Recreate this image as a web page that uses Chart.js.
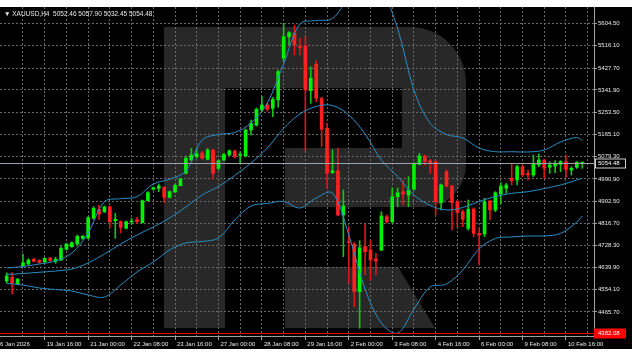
<!DOCTYPE html>
<html>
<head>
<meta charset="utf-8">
<script src="https://cdn.jsdelivr.net/npm/chart.js@4.4.1/dist/chart.umd.min.js"></script>
<style>
  html, body { margin: 0; padding: 0; background: #fff; }
  #wrap { width: 632px; height: 355px; }
</style>
</head>
<body>
<div id="wrap"><canvas id="chart" width="632" height="355"></canvas></div>
<script>
// XAUUSD H4, bar index 0..106 (16 Jan 2026 -> 11 Feb 2026)
const headerText = '\u25BC XAUUSD,H4  5052.46 5057.90 5032.45 5054.48';

const opens = [4588.0, 4602.6, 4577.3, 4648.4, 4655.0, 4673.6, 4669.6, 4662.9, 4678.7, 4665.7,
  4670.8, 4713.1, 4723.3, 4734.0, 4756.4, 4757.6, 4835.3, 4870.0, 4861.0, 4881.1,
  4825.9, 4821.9, 4795.8, 4820.7, 4829.8, 4818.0, 4904.7, 4949.7, 4953.6, 4957.5,
  4918.1, 4939.0, 4963.9, 5012.8, 5065.3, 5078.3, 5093.0, 5068.0, 5104.7, 5032.5,
  5065.3, 5085.0, 5100.8, 5084.0, 5081.1, 5183.6, 5203.3, 5262.5, 5282.2, 5269.2,
  5301.9, 5466.4, 5551.6, 5566.2, 5512.0, 5514.9, 5338.6, 5442.8, 5308.6, 5190.3,
  5015.2, 5023.1, 4848.3, 4745.0, 4734.0, 4545.8, 4723.3, 4710.3, 4674.8, 4710.3,
  4841.6, 4821.9, 4920.5, 4940.2, 4927.2, 4950.0, 5048.3, 5081.1, 5062.5, 5058.6,
  4896.9, 5019.1, 4962.7, 4900.8, 4861.4, 4795.8, 4872.0, 4776.1, 4773.4, 4903.5,
  4868.1, 4931.1, 4953.6, 4993.1, 4986.4, 5038.9, 5012.8, 5006.1, 5045.6, 5065.3,
  5036.5, 5041.6, 5048.3, 5058.6, 5025.8, 5036.5, 5052.46];
const highs = [4619.5, 4620.8, 4597.0, 4693.3, 4676.0, 4677.5, 4672.0, 4680.0, 4681.0, 4681.5,
  4723.3, 4736.6, 4742.0, 4769.4, 4768.0, 4841.6, 4881.1, 4887.8, 4884.0, 4883.8,
  4855.0, 4825.9, 4824.7, 4835.3, 4839.0, 4907.5, 4940.2, 4959.0, 4970.6, 4960.0,
  4943.0, 4970.6, 4994.0, 5081.1, 5111.0, 5110.0, 5100.0, 5111.0, 5108.6, 5065.3,
  5091.0, 5105.0, 5104.7, 5098.0, 5187.5, 5223.0, 5270.4, 5315.0, 5290.0, 5312.6,
  5420.0, 5604.5, 5571.4, 5597.8, 5545.3, 5551.6, 5433.3, 5456.9, 5314.0, 5210.0,
  5104.7, 5112.6, 4946.9, 4802.2, 4740.0, 4747.0, 4812.8, 4750.0, 4697.0, 4861.4,
  4848.0, 4954.8, 4954.8, 4986.4, 4999.4, 5055.0, 5091.7, 5085.0, 5068.0, 5062.5,
  4970.6, 5025.8, 4966.7, 4907.5, 4868.1, 4907.5, 4876.0, 4795.8, 4914.0, 4907.5,
  4940.2, 4975.8, 4973.0, 5052.3, 5045.6, 5045.6, 5025.8, 5085.0, 5088.9, 5068.0,
  5058.6, 5062.5, 5062.5, 5085.0, 5038.9, 5058.6, 5057.90];
const lows = [4580.1, 4536.7, 4575.0, 4647.0, 4652.0, 4662.9, 4658.0, 4660.0, 4665.0, 4657.8,
  4668.0, 4710.3, 4720.0, 4731.0, 4752.0, 4754.0, 4831.4, 4831.0, 4858.0, 4799.8,
  4756.4, 4777.3, 4793.0, 4811.6, 4815.5, 4817.0, 4903.5, 4946.9, 4940.2, 4896.9,
  4915.0, 4937.0, 4962.7, 5010.0, 5062.5, 5072.0, 5068.0, 5065.3, 4989.2, 5025.8,
  5062.0, 5082.0, 5073.0, 5049.5, 5077.0, 5164.0, 5199.0, 5256.0, 5258.0, 5236.1,
  5273.2, 5453.0, 5518.9, 5479.4, 5479.4, 5100.8, 5288.9, 5295.2, 5117.7, 4953.6,
  5012.8, 4845.0, 4683.9, 4578.9, 4486.6, 4401.4, 4611.6, 4592.0, 4611.6, 4707.0,
  4817.0, 4815.5, 4881.1, 4887.8, 4881.1, 4946.0, 5045.6, 5045.6, 5012.8, 4848.3,
  4868.1, 4958.7, 4789.1, 4802.2, 4802.2, 4789.1, 4762.7, 4651.1, 4762.7, 4829.0,
  4861.4, 4891.7, 4934.0, 4966.7, 4966.7, 4999.4, 4986.4, 4999.4, 5038.9, 4993.1,
  5012.8, 5015.2, 5019.1, 4997.0, 5006.1, 5032.5, 5032.45];
const closes = [4607.7, 4578.9, 4595.9, 4660.1, 4670.8, 4665.7, 4661.7, 4677.5, 4668.0, 4673.6,
  4717.0, 4734.0, 4739.1, 4764.3, 4764.3, 4837.7, 4874.8, 4852.3, 4880.0, 4821.9,
  4831.4, 4799.8, 4821.9, 4824.7, 4821.9, 4904.7, 4936.2, 4956.0, 4962.7, 4918.1,
  4940.2, 4965.5, 4990.3, 5072.0, 5085.0, 5090.0, 5072.0, 5104.7, 5012.8, 5062.5,
  5087.8, 5101.9, 5078.3, 5086.0, 5183.6, 5210.0, 5265.3, 5282.2, 5265.3, 5304.7,
  5413.6, 5551.6, 5567.4, 5518.9, 5508.0, 5341.4, 5387.5, 5308.6, 5186.4, 5012.8,
  5023.1, 4848.3, 4883.8, 4741.0, 4545.8, 4719.4, 4703.6, 4670.8, 4666.9, 4844.4,
  4821.9, 4920.5, 4936.2, 4931.1, 4946.9, 5052.3, 5081.1, 5058.6, 5052.3, 4900.8,
  4966.7, 4962.7, 4896.9, 4857.4, 4831.4, 4870.8, 4776.1, 4769.4, 4900.8, 4868.1,
  4936.2, 4962.7, 4966.7, 4983.7, 5038.9, 5006.1, 5006.1, 5052.3, 5065.3, 5032.5,
  5045.6, 5052.3, 5058.6, 5028.6, 5032.5, 5056.2, 5054.48];

// Bollinger bands at every third bar
const bandBars = [0, 3, 6, 9, 12, 15, 18, 21, 24, 27, 30, 33, 36, 39, 42, 45, 48, 51, 54, 57,
  60, 63, 66, 69, 72, 75, 78, 81, 84, 87, 90, 93, 96, 99, 102, 105, 106];
const bandUpper = [4639.3, 4645.2, 4655.0, 4666.9, 4698.4, 4777.3, 4900.8, 4912.6, 4920.5, 4970.6,
  4989.2, 5021.9, 5144.2, 5165.9, 5173.8, 5211.2, 5290.1, 5444.0, 5601.7, 5615.5,
  5623.4, 5708.0, 5775.0, 5735.0, 5583.6, 5341.4, 5210.0, 5165.9, 5152.0, 5112.6,
  5098.0, 5098.0, 5096.9, 5104.7, 5136.3, 5154.0, 5142.2];
const bandMiddle = [4613.6, 4617.6, 4622.3, 4627.4, 4635.3, 4659.0, 4694.5, 4733.9, 4769.4, 4801.0,
  4836.5, 4879.9, 4927.2, 4960.7, 5004.1, 5053.4, 5112.6, 5189.5, 5246.7, 5276.3,
  5280.3, 5242.8, 5167.8, 5065.3, 5000.2, 4927.2, 4885.8, 4868.1, 4877.9, 4901.6,
  4921.3, 4933.9, 4940.2, 4952.8, 4966.7, 4986.4, 4993.1];
const bandLower = [4578.1, 4572.2, 4560.3, 4554.4, 4548.5, 4532.8, 4524.9, 4572.2, 4623.5, 4663.0,
  4710.3, 4737.8, 4743.8, 4757.6, 4828.6, 4883.8, 4893.7, 4901.6, 4876.0, 4915.4,
  4935.1, 4769.4, 4556.4, 4422.3, 4382.8, 4477.5, 4564.3, 4576.1, 4631.4, 4714.2,
  4755.6, 4761.6, 4765.5, 4765.5, 4775.4, 4820.7, 4844.4];

const priceTicks = [5604.50, 5516.10, 5427.70, 5341.90, 5253.50, 5165.10, 5079.30, 4990.90,
  4902.50, 4816.70, 4728.30, 4639.90, 4554.10, 4465.70];
const timeLabelBars = [-2.2, 7, 15, 23, 31, 39, 47, 55, 63, 71, 79, 87, 95, 103];
const timeLabels = ['16 Jan 2026', '19 Jan 16:00', '21 Jan 00:00', '22 Jan 08:00', '23 Jan 16:00',
  '27 Jan 00:00', '28 Jan 08:00', '29 Jan 16:00', '2 Feb 00:00', '3 Feb 08:00', '4 Feb 16:00',
  '6 Feb 00:00', '9 Feb 08:00', '10 Feb 16:00'];
const gridBars = [3, 7, 11, 15, 19, 23, 27, 31, 35, 39, 43, 47, 51, 55, 59, 63, 67, 71, 75, 79,
  83, 87, 91, 95, 99, 103, 107];
const bidPrice = 5054.48;
const redLevel = 4382.08;

const bullColor = '#00f000', bearColor = '#ff2020';
const gridColor = '#6a6a6a', frameColor = '#a0a0a0', textColor = '#e8e8e8';
const bandColor = '#2a8dc2';

const isBull = closes.map((c, i) => c >= opens[i]);
const wickData = highs.map((h, i) => ({ x: i, y: [lows[i], h] }));
const bodyData = opens.map((o, i) => ({ x: i, y: [o, closes[i]] }));
const bandPoints = arr => bandBars.map((b, k) => ({ x: b, y: arr[k] }));
const xTicks = timeLabelBars.concat(gridBars.filter(b => !timeLabelBars.includes(b)));

function bandDataset(arr) {
    return {
        type: 'line', data: bandPoints(arr), borderColor: bandColor, borderWidth: 1,
        pointRadius: 0, tension: 0.35, fill: false, order: 0
    };
}

// background, watermark and price lines
const terminalLook = {
    id: 'terminalLook',
    beforeDraw(chart) {
        const ctx = chart.ctx;
        ctx.save();
        ctx.fillStyle = '#fff';
        ctx.fillRect(0, 0, chart.width, chart.height);
        ctx.fillStyle = '#000';
        ctx.fillRect(0, 7, chart.width, 342);
        // big "R" watermark
        ctx.fillStyle = '#282828';
        ctx.beginPath();
        ctx.moveTo(164, 328);
        ctx.lineTo(164, 27);
        ctx.lineTo(410, 27);
        ctx.arcTo(466, 27, 466, 85, 56);
        ctx.lineTo(466, 165);
        ctx.arcTo(466, 207, 424, 207, 42);
        ctx.lineTo(285, 207);
        ctx.lineTo(285, 148);
        ctx.lineTo(402, 148);
        ctx.lineTo(402, 88);
        ctx.lineTo(225, 88);
        ctx.lineTo(225, 328);
        ctx.closePath();
        ctx.fill();
        ctx.beginPath();
        ctx.moveTo(285, 267);
        ctx.lineTo(398, 267);
        ctx.lineTo(435, 328);
        ctx.lineTo(285, 328);
        ctx.closePath();
        ctx.fill();
        ctx.restore();
    },
    afterDatasetsDraw(chart) {
        const ctx = chart.ctx, area = chart.chartArea, y = chart.scales.y;
        ctx.save();
        const yb = Math.round(y.getPixelForValue(bidPrice)) + 0.5;
        ctx.strokeStyle = '#9aa2ac';
        ctx.lineWidth = 1;
        ctx.beginPath();
        ctx.moveTo(area.left, yb);
        ctx.lineTo(area.right, yb);
        ctx.stroke();
        const yr = Math.round(y.getPixelForValue(redLevel)) + 0.5;
        ctx.strokeStyle = '#e00000';
        ctx.beginPath();
        ctx.moveTo(area.left, yr);
        ctx.lineTo(area.right, yr);
        ctx.stroke();

        ctx.font = '6px "Liberation Sans"';
        ctx.textBaseline = 'middle';
        ctx.fillStyle = '#000';
        ctx.fillRect(area.right + 1, yb - 5, 31, 10);
        ctx.strokeStyle = '#d0d0d0';
        ctx.strokeRect(area.right + 1.5, yb - 4.5, 30, 9);
        ctx.fillStyle = '#fff';
        ctx.fillText(bidPrice.toFixed(2), area.right + 4, yb);
        ctx.fillStyle = '#ff0000';
        ctx.fillRect(area.right, yr - 5, 32, 10);
        ctx.fillStyle = '#fff';
        ctx.fillText(redLevel.toFixed(2), area.right + 4, yr);

        ctx.fillStyle = textColor;
        ctx.font = '6.5px "Liberation Sans"';
        ctx.fillText(headerText, 4, 14.5);
        ctx.restore();
    }
};

new Chart(document.getElementById('chart'), {
    type: 'bar',
    data: {
        datasets: [
            bandDataset(bandUpper),
            bandDataset(bandMiddle),
            bandDataset(bandLower),
            {
                type: 'bar', data: bodyData, grouped: false, barThickness: 3, minBarLength: 1,
                backgroundColor: isBull.map(b => b ? bullColor : bearColor), borderWidth: 0, order: 1
            },
            {
                type: 'bar', data: wickData, grouped: false, barThickness: 1,
                backgroundColor: isBull.map(b => b ? '#18c018' : '#d81818'), borderWidth: 0, order: 2
            }
        ]
    },
    options: {
        responsive: false,
        animation: false,
        layout: { padding: { top: 7, bottom: 6, left: 0, right: 0 } },
        plugins: { legend: { display: false }, tooltip: { enabled: false } },
        scales: {
            x: {
                type: 'linear', min: -1.234, max: 108.16, offset: false,
                afterBuildTicks: s => { s.ticks = xTicks.map(v => ({ value: v })); },
                afterFit: s => { s.height = 13; s.paddingLeft = 0; s.paddingRight = 0; },
                ticks: {
                    autoSkip: false, maxRotation: 0, align: 'start', labelOffset: 2, padding: 1,
                    color: textColor, font: { family: 'Liberation Sans', size: 6 },
                    callback: v => { const k = timeLabelBars.indexOf(v); return k >= 0 ? timeLabels[k] : ''; }
                },
                grid: {
                    offset: false,
                    color: c => gridBars.includes(c.tick && c.tick.value) ? gridColor : 'rgba(0,0,0,0)',
                    tickColor: c => timeLabelBars.includes(c.tick && c.tick.value) ? frameColor : 'rgba(0,0,0,0)',
                    tickLength: 4, lineWidth: 1
                },
                border: { color: frameColor, dash: [2, 2] }
            },
            y: {
                type: 'linear', position: 'right', min: 4371.0, max: 5668.8,
                afterBuildTicks: s => { s.ticks = priceTicks.map(v => ({ value: v })); },
                afterFit: s => { s.width = 38; s.paddingTop = 0; s.paddingBottom = 0; },
                ticks: {
                    color: textColor, padding: 1, font: { family: 'Liberation Sans', size: 6 },
                    callback: v => v.toFixed(2)
                },
                grid: { color: gridColor, tickColor: frameColor, tickLength: 3, lineWidth: 1 },
                border: { color: frameColor, dash: [2, 2] }
            }
        }
    },
    plugins: [terminalLook]
});
</script>
</body>
</html>
